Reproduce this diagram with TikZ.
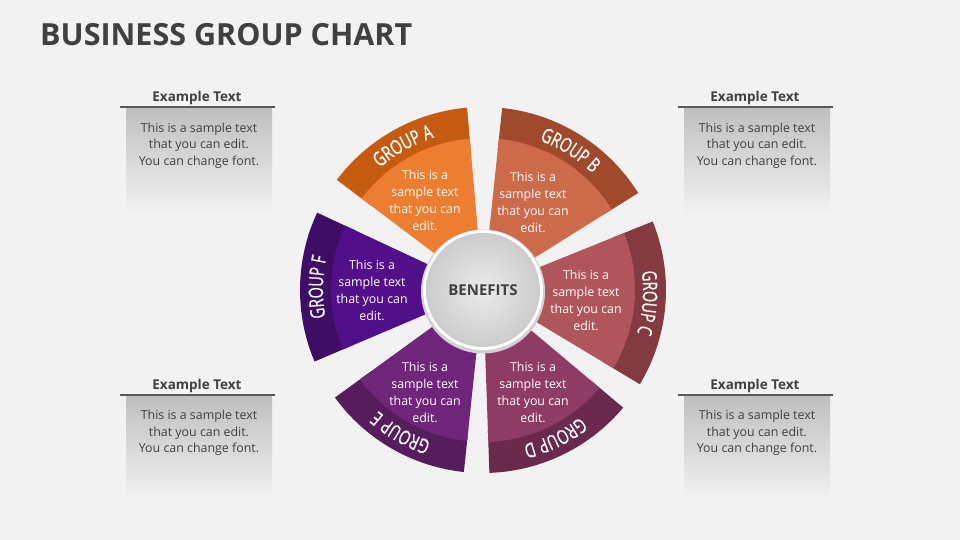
\documentclass[tikz,border=0pt]{standalone}
\usepackage{fontspec}
\setmainfont{Open Sans}
\newfontfamily\grpfamily[FakeStretch=0.72,FakeBold=0.6]{Open Sans}
\usepackage{tikz}
\usetikzlibrary{decorations.text}
\definecolor{bg}{HTML}{F2F2F2}
\definecolor{darktext}{HTML}{404040}
\definecolor{boxtop}{HTML}{BFBFBF}
\definecolor{ruleline}{HTML}{595959}
\definecolor{bandA}{HTML}{C55A11}
\definecolor{sectA}{HTML}{ED7D31}
\definecolor{bandB}{HTML}{A0492B}
\definecolor{sectB}{HTML}{CD6A4A}
\definecolor{bandC}{HTML}{833B41}
\definecolor{sectC}{HTML}{B0555B}
\definecolor{bandD}{HTML}{6A2A4E}
\definecolor{sectD}{HTML}{8E3B65}
\definecolor{bandE}{HTML}{561D5C}
\definecolor{sectE}{HTML}{6F2579}
\definecolor{bandF}{HTML}{3F0D66}
\definecolor{sectF}{HTML}{520F8A}
\newcommand{\grpfont}{\grpfamily\fontsize{20}{20}\selectfont}
\tikzstyle{boxhead} = [font=\bfseries\fontsize{13.5}{16}\selectfont,text=darktext,inner sep=0pt]
\tikzstyle{boxtext} = [font=\fontsize{12.4}{16.5}\selectfont,text=darktext,align=center,inner sep=0pt]
\tikzstyle{wheeltext} = [font=\fontsize{12.4}{17}\selectfont,text=white,align=center,inner sep=0pt]
\tikzstyle{grouplabel} = [decorate,decoration={text along path,text align=center,text color=white}]

\begin{document}
\begin{tikzpicture}[x=1pt,y=1pt]
\useasboundingbox (0,0) rectangle (960,540);
\fill[bg] (0,0) rectangle (960,540);
\node[anchor=base west,inner sep=0pt,text=darktext,font=\bfseries\fontsize{30.5}{34}\selectfont] (title) at (40,494) {BUSINESS GROUP CHART};

% side boxes
\shade[top color=boxtop,bottom color=bg] (126,432) rectangle (272,325);
\draw[ruleline,line width=2pt] (120,433) -- (275,433);
\node[boxhead] (headTL) at (197,442) {Example Text};
\node[boxtext] (textTL) at (199,394.5) {This is a sample text\\that you can edit.\\You can change font.};

\shade[top color=boxtop,bottom color=bg] (684,432) rectangle (830,325);
\draw[ruleline,line width=2pt] (678,433) -- (833,433);
\node[boxhead] (headTR) at (755,442) {Example Text};
\node[boxtext] (textTR) at (757,394.5) {This is a sample text\\that you can edit.\\You can change font.};

\shade[top color=boxtop,bottom color=bg] (126,144) rectangle (272,40);
\draw[ruleline,line width=2pt] (120,145) -- (275,145);
\node[boxhead] (headBL) at (197,154) {Example Text};
\node[boxtext] (textBL) at (199,107) {This is a sample text\\that you can edit.\\You can change font.};

\shade[top color=boxtop,bottom color=bg] (684,144) rectangle (830,40);
\draw[ruleline,line width=2pt] (678,145) -- (833,145);
\node[boxhead] (headBR) at (755,154) {Example Text};
\node[boxtext] (textBR) at (757,107) {This is a sample text\\that you can edit.\\You can change font.};

% wheel
\begin{scope}[shift={(483,250)}]
\fill[bandA] (143:140pt) arc[start angle=143,end angle=95,radius=140pt] -- (95:183pt) arc[start angle=95,end angle=143,radius=183pt] -- cycle;
\fill[bandB] (84:140pt) arc[start angle=84,end angle=32,radius=140pt] -- (32:183pt) arc[start angle=32,end angle=84,radius=183pt] -- cycle;
\fill[bandC] (22:140pt) arc[start angle=22,end angle=-31,radius=140pt] -- (-31:183pt) arc[start angle=-31,end angle=22,radius=183pt] -- cycle;
\fill[bandD] (-40:140pt) arc[start angle=-40,end angle=-88,radius=140pt] -- (-88:183pt) arc[start angle=-88,end angle=-40,radius=183pt] -- cycle;
\fill[bandE] (-96:140pt) arc[start angle=-96,end angle=-144,radius=140pt] -- (-144:183pt) arc[start angle=-144,end angle=-96,radius=183pt] -- cycle;
\fill[bandF] (203:140pt) arc[start angle=203,end angle=155,radius=140pt] -- (155:183pt) arc[start angle=155,end angle=203,radius=183pt] -- cycle;

\fill[sectA] (0,0) -- (143:152pt) arc[start angle=143,end angle=95,radius=152pt] -- cycle;
\fill[sectB] (0,0) -- (84:152pt) arc[start angle=84,end angle=32,radius=152pt] -- cycle;
\fill[sectC] (0,0) -- (22:152pt) arc[start angle=22,end angle=-31,radius=152pt] -- cycle;
\fill[sectD] (0,0) -- (-40:152pt) arc[start angle=-40,end angle=-88,radius=152pt] -- cycle;
\fill[sectE] (0,0) -- (-96:152pt) arc[start angle=-96,end angle=-144,radius=152pt] -- cycle;
\fill[sectF] (0,0) -- (203:152pt) arc[start angle=203,end angle=155,radius=152pt] -- cycle;

\path[grouplabel,decoration={text={|\grpfont|GROUP A}}] (143:160pt) arc[start angle=143,end angle=95,radius=160pt];
\path[grouplabel,decoration={text={|\grpfont|GROUP B}}] (84:160pt) arc[start angle=84,end angle=32,radius=160pt];
\path[grouplabel,decoration={text={|\grpfont|GROUP C}}] (22:160pt) arc[start angle=22,end angle=-31,radius=160pt];
\path[grouplabel,decoration={text={|\grpfont|GROUP D}}] (-40:160pt) arc[start angle=-40,end angle=-88,radius=160pt];
\path[grouplabel,decoration={text={|\grpfont|GROUP E}}] (-96:160pt) arc[start angle=-96,end angle=-144,radius=160pt];
\path[grouplabel,decoration={text={|\grpfont|GROUP F}}] (203:160pt) arc[start angle=203,end angle=155,radius=160pt];

% centre
\fill[black!18] (0,-1.5) circle (62pt);
\fill[white] (0,0) circle (60pt);
\shade[inner color=black!8,outer color=black!20] (0,0) circle (57pt);
\end{scope}

\node[font=\bfseries\fontsize{15}{18}\selectfont,text=darktext] (benefits) at (483,250) {BENEFITS};

\node[wheeltext] (textA) at (425,339.5) {This is a\\sample text\\that you can\\edit.};
\node[wheeltext] (textB) at (533,337.5) {This is a\\sample text\\that you can\\edit.};
\node[wheeltext] (textC) at (586,240) {This is a\\sample text\\that you can\\edit.};
\node[wheeltext] (textD) at (533,148) {This is a\\sample text\\that you can\\edit.};
\node[wheeltext] (textE) at (425,148) {This is a\\sample text\\that you can\\edit.};
\node[wheeltext] (textF) at (372,250) {This is a\\sample text\\that you can\\edit.};

\end{tikzpicture}
\end{document}
